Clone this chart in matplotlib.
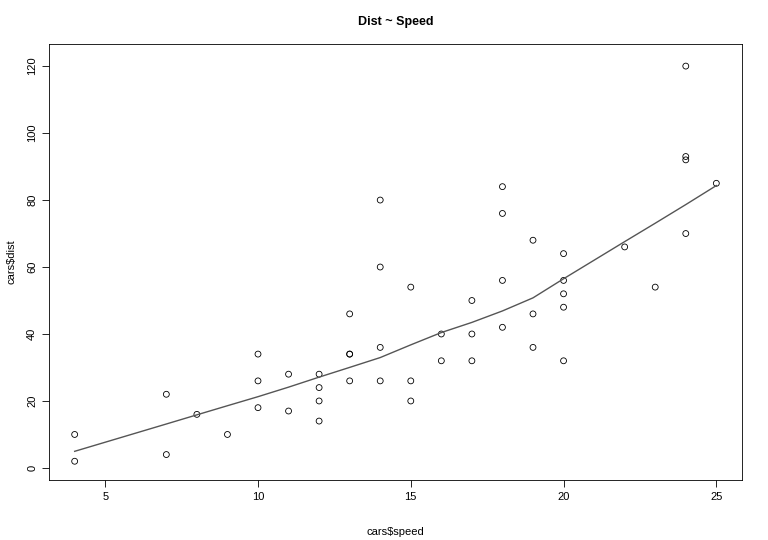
import matplotlib
matplotlib.use("Agg")
import matplotlib.pyplot as plt

speed = [4,4,7,7,8,9,10,10,10,11,11,12,12,12,12,13,13,13,13,14,14,14,14,15,15,15,16,16,17,17,17,18,18,18,18,19,19,19,20,20,20,20,20,22,23,24,24,24,24,25]
dist = [2,10,4,22,16,10,18,26,34,17,28,14,20,24,28,26,34,34,46,26,36,60,80,20,26,54,32,40,32,40,50,42,56,76,84,36,46,68,32,48,52,56,64,66,54,70,92,93,120,85]
lowess_x = [4,7,8,9,10,11,12,13,14,15,16,17,18,19,20,22,23,24,25]
lowess_y = [4.965,13.124,15.859,18.580,21.280,24.129,27.120,30.027,32.963,36.758,40.435,43.463,46.885,50.793,56.491,67.586,73.080,78.643,84.329]

plt.rcParams['font.family'] = ['Liberation Sans', 'DejaVu Sans']
fig = plt.figure(figsize=(7.68, 5.4), dpi=100)
ax = fig.add_axes([49/768, 60/540, 693/768, 436/540])
ax.scatter(speed, dist, s=18, facecolors='none', edgecolors='black', linewidths=0.6)
ax.plot(lowess_x, lowess_y, color='#555555', lw=1)
ax.set_xlim(3.16, 25.84)
ax.set_ylim(-3.6, 126.6)
ax.set_xticks([5,10,15,20,25])
ax.set_yticks([0,20,40,60,80,100,120])
ax.tick_params(labelsize=8, length=5, width=0.6)
for t in ax.get_yticklabels():
    t.set_rotation(90); t.set_va('center')
for s in ax.spines.values():
    s.set_linewidth(0.6)
ax.set_xlabel('cars$speed', fontsize=8, labelpad=18)
ax.set_ylabel('cars$dist', fontsize=8, labelpad=8)
ax.set_title('Dist ~ Speed', fontsize=9, fontweight='bold', pad=14)
fig.savefig('out.png', dpi=100)
